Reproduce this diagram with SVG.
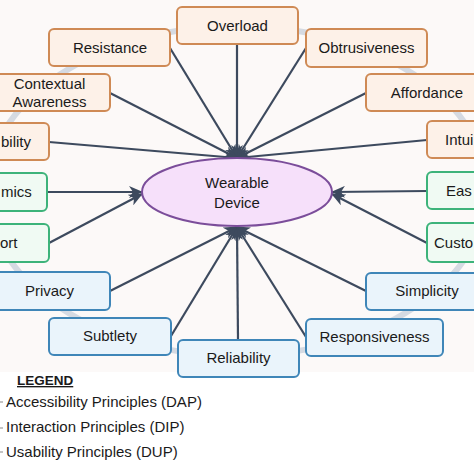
<svg xmlns="http://www.w3.org/2000/svg" width="474" height="474" viewBox="0 0 474 474">
<style>
  text { font-family: "Liberation Sans", Arial, sans-serif; font-size: 15px; fill: #1a1a1a; }
  .c { text-anchor: middle; }
  .e { text-anchor: end; }
  .dap rect { fill: #fdf1e8; stroke: #cf8a55; stroke-width: 2; }
  .dip rect { fill: #f0faf3; stroke: #3db37a; stroke-width: 2; }
  .dup rect { fill: #eaf4fb; stroke: #3f86b8; stroke-width: 2; }
  .edge { stroke: #3d4a5e; stroke-width: 2.2; fill: none; marker-end: url(#arr); }
  .leg { font-size: 15px; }
</style>
<defs>
  <marker id="arr" viewBox="0 0 14 12" refX="13" refY="6" markerWidth="14" markerHeight="12" markerUnits="userSpaceOnUse" orient="auto">
    <path d="M0,0 L14,6 L0,12 L4,6 z" fill="#3d4a5e"/>
  </marker>
</defs>
<rect x="0" y="0" width="474" height="474" fill="#ffffff"/>
<rect x="0" y="0" width="474" height="372" fill="#fcf9f8"/>
<ellipse id="ring" cx="237" cy="191" rx="250" ry="165" fill="none" stroke="#d5dae2" stroke-width="6"/>

<g id="connectors">
  <line class="edge" x1="170" y1="48" x2="237" y2="158"/>
  <line class="edge" x1="237" y1="44" x2="237" y2="158"/>
  <line class="edge" x1="306" y1="48" x2="237" y2="158"/>
  <line class="edge" x1="110" y1="93" x2="237" y2="158"/>
  <line class="edge" x1="49" y1="142" x2="237" y2="158"/>
  <line class="edge" x1="366" y1="93" x2="237" y2="158"/>
  <line class="edge" x1="427" y1="140" x2="237" y2="158"/>
  <line class="edge" x1="47" y1="192" x2="142" y2="192"/>
  <line class="edge" x1="49" y1="243" x2="142" y2="194"/>
  <line class="edge" x1="427" y1="191" x2="332" y2="192"/>
  <line class="edge" x1="427" y1="243" x2="332" y2="194"/>
  <line class="edge" x1="110" y1="291" x2="237" y2="227"/>
  <line class="edge" x1="171" y1="336" x2="237" y2="227"/>
  <line class="edge" x1="238" y1="340" x2="237" y2="227"/>
  <line class="edge" x1="306" y1="337" x2="237" y2="227"/>
  <line class="edge" x1="366" y1="291" x2="237" y2="227"/>
</g>

<g id="center">
  <ellipse cx="237" cy="192" rx="95" ry="34" fill="#f6e0fa" stroke="#7b4d9a" stroke-width="2"/>
  <text class="c" x="237" y="188">Wearable</text>
  <text class="c" x="237" y="208">Device</text>
</g>

<g id="overload" class="dap"><rect x="177" y="7" width="121" height="37" rx="5"/><text class="c" x="237.5" y="31">Overload</text></g>
<g id="resistance" class="dap"><rect x="49" y="29" width="121" height="37" rx="5"/><text class="c" x="110" y="53">Resistance</text></g>
<g id="obtrusiveness" class="dap"><rect x="306" y="29" width="121" height="38" rx="5"/><text class="c" x="366.5" y="53">Obtrusiveness</text></g>
<g id="contextual" class="dap"><rect x="-10" y="74" width="120" height="37" rx="5"/><text class="c" x="49.5" y="89">Contextual</text><text class="c" x="49.5" y="107">Awareness</text></g>
<g id="affordance" class="dap"><rect x="366" y="74" width="122" height="37" rx="5"/><text class="c" x="427" y="98">Affordance</text></g>
<g id="bility" class="dap"><rect x="-73" y="123" width="122" height="37" rx="5"/><text x="1" y="147">bility</text></g>
<g id="intui" class="dap"><rect x="427" y="121" width="122" height="37" rx="5"/><text x="445" y="145">Intui</text></g>

<g id="mics" class="dip"><rect x="-75" y="173" width="122" height="38" rx="5"/><text x="1" y="197">mics</text></g>
<g id="eas" class="dip"><rect x="427" y="172" width="122" height="37" rx="5"/><text x="446" y="196">Eas</text></g>
<g id="ort" class="dip"><rect x="-73" y="224" width="122" height="38" rx="5"/><text x="0" y="248">ort</text></g>
<g id="custo" class="dip"><rect x="427" y="223" width="122" height="39" rx="5"/><text x="434" y="248">Custo</text></g>

<g id="privacy" class="dup"><rect x="-10" y="272" width="120" height="38" rx="5"/><text class="c" x="49.5" y="296">Privacy</text></g>
<g id="simplicity" class="dup"><rect x="366" y="273" width="122" height="37" rx="5"/><text class="c" x="427" y="296">Simplicity</text></g>
<g id="subtlety" class="dup"><rect x="49" y="318" width="122" height="37" rx="5"/><text class="c" x="110" y="341">Subtlety</text></g>
<g id="responsiveness" class="dup"><rect x="306" y="319" width="137" height="37" rx="5"/><text class="c" x="374.5" y="342">Responsiveness</text></g>
<g id="reliability" class="dup"><rect x="178" y="340" width="121" height="37" rx="5"/><text class="c" x="238.5" y="363">Reliability</text></g>

<g id="legend">
  <text x="17" y="385" style="font-weight:bold;font-size:13.5px;text-decoration:underline">LEGEND</text>
  <line x1="0" y1="402" x2="3" y2="402" stroke="#b0b0b0" stroke-width="1.5"/>
  <line x1="0" y1="428" x2="3" y2="428" stroke="#b0b0b0" stroke-width="1.5"/>
  <line x1="0" y1="452" x2="3" y2="452" stroke="#b0b0b0" stroke-width="1.5"/>
  <text class="leg" x="6" y="407">Accessibility Principles (DAP)</text>
  <text class="leg" x="6" y="432">Interaction Principles (DIP)</text>
  <text class="leg" x="6" y="457">Usability Principles (DUP)</text>
</g>
</svg>
